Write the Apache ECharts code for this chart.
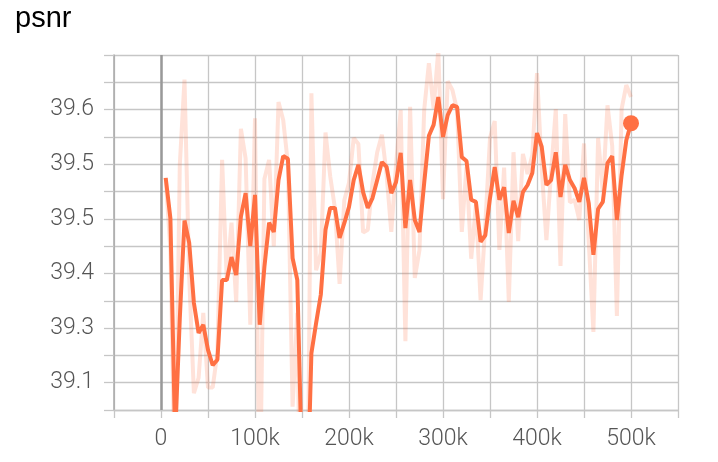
<!DOCTYPE html>
<html>
<head>
<meta charset="utf-8">
<script src="https://cdn.jsdelivr.net/npm/echarts@6/dist/echarts.min.js"></script>
<style>
html,body{margin:0;padding:0;background:#fff;}
#chart{width:718px;height:462px;}
</style>
</head>
<body>
<div id="chart"></div>
<script>
// steps in thousands
var stepsK = [5,10,15,20,25,30,35,40,45,50,55,60,65,70,75,80,85,90,95,100,
  105,110,115,120,125,130,135,140,145,150,155,160,165,170,175,180,185,190,195,200,
  205,210,215,220,225,230,235,240,245,250,255,260,265,270,275,280,285,290,295,300,
  305,310,315,320,325,330,335,340,345,350,355,360,365,370,375,380,385,390,395,400,
  405,410,415,420,425,430,435,440,445,450,455,460,465,470,475,480,485,490,495,500];

var smoothed = [
  39.475, 39.401, 39.000, 39.218, 39.397, 39.356, 39.246, 39.191, 39.206, 39.160,
  39.132, 39.142, 39.288, 39.288, 39.330, 39.297, 39.404, 39.447, 39.350, 39.444,
  39.206, 39.312, 39.393, 39.376, 39.471, 39.515, 39.510, 39.328, 39.288, 38.940,
  38.838, 39.154, 39.209, 39.261, 39.380, 39.420, 39.420, 39.365, 39.392, 39.422,
  39.471, 39.499, 39.449, 39.420, 39.438, 39.471, 39.504, 39.495, 39.447, 39.467,
  39.521, 39.383, 39.471, 39.398, 39.376, 39.466, 39.552, 39.572, 39.623, 39.550,
  39.590, 39.608, 39.605, 39.513, 39.506, 39.435, 39.431, 39.358, 39.370, 39.438,
  39.495, 39.435, 39.458, 39.374, 39.433, 39.403, 39.449, 39.462, 39.484, 39.557,
  39.532, 39.462, 39.471, 39.522, 39.440, 39.499, 39.471, 39.456, 39.431, 39.475,
  39.429, 39.334, 39.418, 39.431, 39.502, 39.515, 39.398, 39.480, 39.544, 39.575
];

var raw = [
  39.475, 39.343, 38.900, 39.499, 39.655, 39.294, 39.081, 39.109, 39.228, 39.091,
  39.091, 39.155, 39.508, 39.288, 39.393, 39.248, 39.565, 39.511, 39.206, 39.584,
  38.849, 39.473, 39.508, 39.350, 39.614, 39.581, 39.501, 39.056, 39.228, 38.620,
  38.680, 39.630, 39.306, 39.337, 39.558, 39.478, 39.420, 39.281, 39.434, 39.466,
  39.548, 39.537, 39.375, 39.380, 39.466, 39.522, 39.554, 39.481, 39.376, 39.498,
  39.599, 39.176, 39.605, 39.292, 39.343, 39.600, 39.685, 39.602, 39.709, 39.436,
  39.652, 39.636, 39.599, 39.376, 39.495, 39.327, 39.425, 39.251, 39.390, 39.548,
  39.579, 39.343, 39.494, 39.248, 39.522, 39.359, 39.519, 39.482, 39.517, 39.667,
  39.493, 39.361, 39.485, 39.601, 39.314, 39.592, 39.430, 39.435, 39.398, 39.538,
  39.360, 39.193, 39.548, 39.450, 39.608, 39.534, 39.222, 39.601, 39.645, 39.623
];

var xTickValues = [0, 100, 200, 300, 400, 500];
var xTickLabels = ['0', '100k', '200k', '300k', '400k', '500k'];
var yTickValues = [39.1, 39.2, 39.3, 39.4, 39.5, 39.6];
var yTickLabels = ['39.1', '39.3', '39.4', '39.5', '39.5', '39.6'];

var titleText = 'psnr';
var lineColor = '#ff7043';
var rawColor = 'rgba(255,112,67,0.2)';
var gridColor = '#c6c6c6';
var labelFont = 'Roboto, "Liberation Sans", sans-serif';

function pairs(xs, ys) {
  var out = [];
  for (var i = 0; i < xs.length; i++) out.push([xs[i], ys[i]]);
  return out;
}

var chart = echarts.init(document.getElementById('chart'), null, {renderer: 'canvas'});
chart.setOption({
  animation: false,
  backgroundColor: '#ffffff',
  title: {
    text: titleText,
    left: 15,
    top: 4,
    padding: 0,
    textStyle: {color: '#000', fontSize: 29, fontWeight: 'normal', fontFamily: '"Liberation Sans", Arial, sans-serif'}
  },
  grid: {left: 114, right: 40, top: 55, bottom: 52, containLabel: false},
  xAxis: {
    type: 'value',
    min: -50, max: 550, interval: 50,
    axisLine: {show: true, onZero: false, lineStyle: {color: gridColor, width: 1.3}},
    axisTick: {show: true, length: 8, lineStyle: {color: gridColor, width: 1.3}},
    splitLine: {show: true, lineStyle: {color: gridColor, width: 1.3}},
    axisLabel: {
      show: true, margin: 18, color: '#555', fontSize: 23, fontWeight: 300, fontFamily: labelFont,
      showMinLabel: true, showMaxLabel: true, hideOverlap: false,
      formatter: function (v) {
        var i = xTickValues.indexOf(Math.round(v));
        return i >= 0 ? xTickLabels[i] : '';
      }
    }
  },
  yAxis: {
    type: 'value',
    min: 39.05, max: 39.7, interval: 0.05,
    axisLine: {show: true, onZero: false, lineStyle: {color: '#a8a8a8', width: 1.5}},
    axisTick: {show: true, length: 10, lineStyle: {color: gridColor, width: 1.3}},
    splitLine: {show: true, lineStyle: {color: gridColor, width: 1.3}},
    axisLabel: {
      show: true, margin: 20, color: '#555', fontSize: 23, fontWeight: 300, fontFamily: labelFont,
      showMinLabel: true, showMaxLabel: true, hideOverlap: false,
      formatter: function (v) {
        for (var i = 0; i < yTickValues.length; i++) {
          if (Math.abs(yTickValues[i] - v) < 1e-6) return yTickLabels[i];
        }
        return '';
      }
    }
  },
  series: [
    {
      type: 'line',
      name: 'raw',
      data: pairs(stepsK, raw),
      showSymbol: false,
      symbol: 'none',
      clip: true,
      lineStyle: {color: rawColor, width: 4},
      emphasis: {disabled: true},
      silent: true,
      z: 2,
      markLine: {
        silent: true,
        symbol: ['none', 'none'],
        label: {show: false},
        lineStyle: {color: '#999999', width: 2.5, type: 'solid', opacity: 1},
        emphasis: {disabled: true},
        data: [{xAxis: 0}]
      }
    },
    {
      type: 'line',
      name: 'smoothed',
      data: pairs(stepsK, smoothed),
      showSymbol: false,
      symbol: 'none',
      clip: true,
      lineStyle: {color: lineColor, width: 4},
      emphasis: {disabled: true},
      silent: true,
      z: 3
    },
    {
      type: 'scatter',
      name: 'last',
      data: [[stepsK[stepsK.length - 1], smoothed[smoothed.length - 1]]],
      symbol: 'circle',
      symbolSize: 16,
      itemStyle: {color: lineColor, opacity: 1},
      emphasis: {disabled: true},
      silent: true,
      z: 4
    }
  ]
});
</script>
</body>
</html>
